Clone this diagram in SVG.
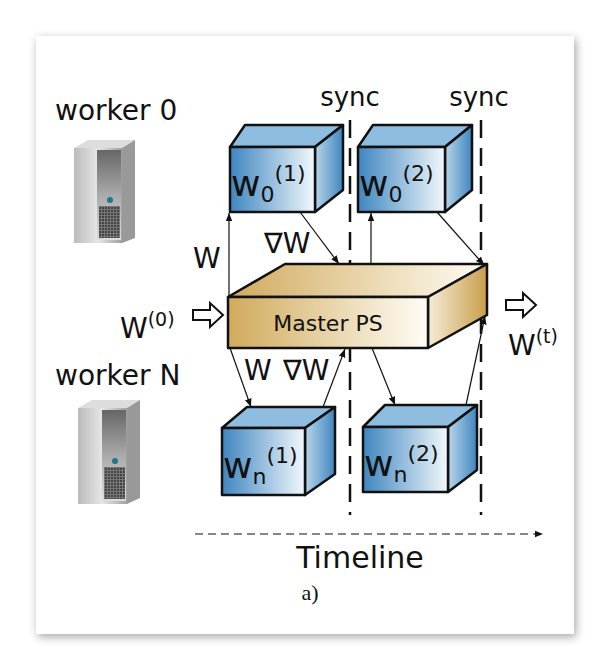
<svg xmlns="http://www.w3.org/2000/svg" width="610" height="670" viewBox="0 0 610 670">
<defs>
<linearGradient id="blue" x1="0" x2="1" y1="0" y2="0"><stop offset="0" stop-color="#3f86c0"/><stop offset="1" stop-color="#f2f8fc"/></linearGradient>
<linearGradient id="blueS" x1="0" x2="1"><stop offset="0" stop-color="#b9d5ea"/><stop offset="1" stop-color="#3f86c0"/></linearGradient>
<linearGradient id="gold" x1="0" x2="1"><stop offset="0" stop-color="#d1aa5c"/><stop offset="1" stop-color="#fffdf6"/></linearGradient>
<linearGradient id="goldS" x1="0" x2="1"><stop offset="0" stop-color="#f5ecd6"/><stop offset="1" stop-color="#c99e4c"/></linearGradient>
<linearGradient id="pc" x1="0" x2="1"><stop offset="0" stop-color="#bbb"/><stop offset="0.5" stop-color="#e6e6e6"/><stop offset="1" stop-color="#a0a0a0"/></linearGradient>
<linearGradient id="pcf" x1="0" x2="0" y1="0" y2="1"><stop offset="0" stop-color="#666"/><stop offset="0.5" stop-color="#aaa"/><stop offset="1" stop-color="#ddd"/></linearGradient>
<pattern id="grill" width="3" height="3" patternUnits="userSpaceOnUse"><rect width="3" height="3" fill="#777"/><rect width="2" height="2" fill="#444"/></pattern>
<marker id="ah" viewBox="0 0 10 10" refX="10" refY="5" markerWidth="7" markerHeight="7" orient="auto"><path d="M0,1 L10,5 L0,9 z" fill="#111"/></marker>
<filter id="sh" x="-10%" y="-10%" width="120%" height="120%"><feDropShadow dx="2" dy="3" stdDeviation="5" flood-opacity="0.35"/></filter>
</defs>
<style>
text{font-family:"DejaVu Sans","Liberation Sans",sans-serif;fill:#111}
.cube{stroke:#111;stroke-width:2.5;stroke-linejoin:round}
.c{stroke:#111;stroke-width:1.2;fill:none}
.sync{stroke:#111;stroke-width:2.5;stroke-dasharray:18,10;fill:none}
.lbl{font-size:28px}
.big{font-size:28px}
.hol{fill:#fff;stroke:#111;stroke-width:2}
.bt{font-size:36px}
</style>
<rect width="610" height="670" fill="#fff"/>
<rect x="36" y="36" width="538" height="598" fill="#fff" filter="url(#sh)"/>

<g id="worker0">
<text x="55" y="120" class="big">worker 0</text>
<g id="pc0">
<path d="M74,148 L88,140 L135,140 L122,148 Z" fill="#ddd"/>
<rect x="74" y="148" width="48" height="95" fill="url(#pc)"/>
<path d="M122,148 L135,140 L135,238 L122,243 Z" fill="#999"/>
<rect x="97" y="150" width="24" height="90" fill="url(#pcf)"/>
<rect x="99" y="206" width="21" height="32" fill="url(#grill)"/>
<circle cx="110" cy="200" r="3" fill="#1a7a8a"/>
</g>
</g>
<g id="workerN">
<text x="55" y="385" class="big">worker N</text>
<g id="pcN">
<path d="M78,408 L92,400 L140,400 L127,408 Z" fill="#ddd"/>
<rect x="78" y="408" width="49" height="96" fill="url(#pc)"/>
<path d="M127,408 L140,400 L140,498 L127,504 Z" fill="#999"/>
<rect x="102" y="410" width="24" height="91" fill="url(#pcf)"/>
<rect x="104" y="467" width="21" height="32" fill="url(#grill)"/>
<circle cx="115" cy="461" r="3" fill="#1a7a8a"/>
</g>
</g>

<g id="syncs">
<path class="sync" d="M350,120 V515"/>
<path class="sync" d="M481,120 V515"/>
<text x="350" y="106" text-anchor="middle" font-size="26">sync</text>
<text x="479" y="106" text-anchor="middle" font-size="26">sync</text>
</g>

<g id="w0_1">
<path class="cube" d="M230,147 L245,125 L343,125 L315,147 Z" fill="#8fbde0"/>
<path class="cube" d="M315,147 L343,125 L343,190 L315,212 Z" fill="url(#blueS)"/>
<rect class="cube" x="230" y="147" width="85" height="65" fill="url(#blue)"/>
<text x="231" y="196" class="bt">w<tspan font-size="22" dy="6">0</tspan><tspan font-size="22" dy="-21">(1)</tspan></text>
</g>
<g id="w0_2">
<path class="cube" d="M358,147 L373,125 L472,125 L445,147 Z" fill="#8fbde0"/>
<path class="cube" d="M445,147 L472,125 L472,190 L445,212 Z" fill="url(#blueS)"/>
<rect class="cube" x="358" y="147" width="87" height="65" fill="url(#blue)"/>
<text x="359" y="196" class="bt">w<tspan font-size="22" dy="6">0</tspan><tspan font-size="22" dy="-21">(2)</tspan></text>
</g>
<g id="master">
<path class="cube" d="M228,297 L285,264 L487,264 L428,297 Z" fill="url(#gold)"/>
<path class="cube" d="M428,297 L487,264 L487,315 L428,348 Z" fill="url(#goldS)"/>
<rect class="cube" x="228" y="297" width="200" height="51" fill="url(#gold)"/>
<text x="328" y="331" text-anchor="middle" font-size="22">Master PS</text>
</g>
<g id="wn_1">
<path class="cube" d="M222,428 L247,407 L335,407 L305,428 Z" fill="#8fbde0"/>
<path class="cube" d="M305,428 L335,407 L335,474 L305,495 Z" fill="url(#blueS)"/>
<rect class="cube" x="222" y="428" width="83" height="67" fill="url(#blue)"/>
<text x="223" y="478" class="bt">w<tspan font-size="22" dy="6">n</tspan><tspan font-size="22" dy="-21">(1)</tspan></text>
</g>
<g id="wn_2">
<path class="cube" d="M363,427 L385,405 L477,405 L448,427 Z" fill="#8fbde0"/>
<path class="cube" d="M448,427 L477,405 L477,470 L448,492 Z" fill="url(#blueS)"/>
<rect class="cube" x="363" y="427" width="85" height="65" fill="url(#blue)"/>
<text x="364" y="476" class="bt">w<tspan font-size="22" dy="6">n</tspan><tspan font-size="22" dy="-21">(2)</tspan></text>
</g>

<g id="connectors">
<path class="c" marker-end="url(#ah)" d="M229,297 L229,213"/>
<path class="c" marker-end="url(#ah)" d="M300,212 L339,264"/>
<path class="c" marker-end="url(#ah)" d="M371,264 L371,213"/>
<path class="c" marker-end="url(#ah)" d="M437,212 L484,265"/>
<path class="c" marker-end="url(#ah)" d="M230,348 L251,407"/>
<path class="c" marker-end="url(#ah)" d="M323,407 L345,349"/>
<path class="c" marker-end="url(#ah)" d="M372,348 L395,405"/>
<path class="c" marker-end="url(#ah)" d="M466,405 L485,316"/>
<path class="c" stroke-width="1.6" stroke-dasharray="8,5" marker-end="url(#ah)" d="M195,534 L543,534"/>
<path class="hol" d="M193,310 L210,310 L210,303 L223,315 L210,327 L210,320 L193,320 Z"/>
<path class="hol" d="M506,300 L523,300 L523,293 L536,305 L523,317 L523,310 L506,310 Z"/>
</g>
<g id="labels">
<text x="193" y="268" class="lbl">W</text>
<text x="264" y="253" class="lbl">∇W</text>
<text x="244" y="380" class="lbl">W</text>
<text x="283" y="380" class="lbl">∇W</text>
<text x="120" y="338" class="lbl">W<tspan font-size="19" dy="-12">(0)</tspan></text>
<text x="508" y="355" class="lbl">W<tspan font-size="19" dy="-12">(t)</tspan></text>
<text x="360" y="568" text-anchor="middle" font-size="30">Timeline</text>
<text x="310" y="600" text-anchor="middle" font-size="22" style="font-family:'Liberation Serif',serif">a)</text>
</g>
</svg>
